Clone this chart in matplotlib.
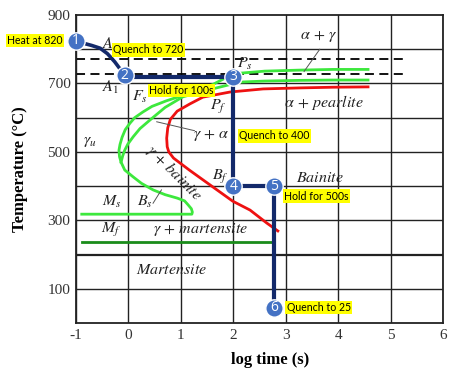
import matplotlib
matplotlib.use("Agg")
import matplotlib.pyplot as plt

plt.rcParams['mathtext.fontset'] = 'stix'

# ---- data (log time, temperature) ----
outer_green_x = [4.57, 3.9, 3.27, 2.6, 2.13, 1.85, 1.61, 1.17, 0.72, 0.45, 0.28, 0.12, 0.03, -0.06, -0.12, -0.16, -0.18, -0.17, -0.14, -0.07, 0.09, 0.25, 0.47, 0.7, 0.93, 1.07, 1.14, 1.2, 1.22, 1.21, 1.1, 0.5, -0.89]
outer_green_y = [741, 741, 739, 736, 730, 716, 697, 672, 649, 633, 617, 600, 584, 565, 543, 522, 505, 486, 470, 447, 427, 408, 389, 375, 365, 357, 345, 334, 324, 318, 318, 318, 318]
inner_green_x = [4.57, 3.9, 3.27, 2.6, 2.13, 1.68, 1.04, 0.7, 0.41, 0.22, 0.09, -0.01, -0.07, -0.11, -0.14]
inner_green_y = [710, 710, 709, 707, 704, 687, 661, 630, 593, 568, 544, 523, 505, 488, 470]
red_x = [4.57, 3.9, 3.27, 2.57, 1.94, 1.42, 1.17, 0.93, 0.8, 0.75, 0.73, 0.74, 0.77, 0.86, 0.98, 1.17, 1.37, 1.68, 1.99, 2.32, 2.64, 2.85]
red_y = [690, 689, 687, 684, 675, 660, 640, 619, 595, 570, 540, 515, 500, 482, 468, 446, 424, 390, 356, 330, 292, 269]
mf_x = [-0.89, 2.73]
mf_y = [236, 236]
a3_x = [-1, 5.24]
a3_y = [772, 772]
a1_x = [-1, 5.24]
a1_y = [727, 727]

cool_x = [-1.0, -0.87, -0.7, -0.54, -0.4, -0.26, -0.07]
cool_y = [825, 818, 811, 803, 787, 763, 724]
path_x = [-0.07, 2.0, 2.0, 2.78, 2.78]
path_y = [720, 720, 400, 400, 45]
step_x = [-1.0, -0.07, 2.0, 2.0, 2.78, 2.78]
step_y = [825, 724, 720, 400, 400, 45]
step_num = ['1', '2', '3', '4', '5', '6']

notes = ['Heat at 820', 'Quench to 720', 'Hold for 100s', 'Quench to 400', 'Hold for 500s', 'Quench to 25']
note_x = [-1.25, -0.29, 0.39, 2.11, 2.97, 3.02]
note_y = [826, 798, 679, 547, 371, 45]
note_ha = ['right', 'left', 'left', 'left', 'left', 'left']

x_ticks = [-1, 0, 1, 2, 3, 4, 5, 6]
y_ticks = [100, 300, 500, 700, 900]

fig = plt.figure(figsize=(4.74, 3.77), dpi=100)
ax = fig.add_axes([0.1603, 0.1432, 0.7743, 0.817])
ax.set_xlim(-1, 6)
ax.set_ylim(0, 900)

for xv in range(-1, 7):
    ax.axvline(xv, color='#222222', lw=1.0, zorder=1)
for yv in range(100, 900, 100):
    ax.axhline(yv, color='#222222', lw=1.6 if yv == 200 else 1.0, zorder=1)

ax.set_xticks(x_ticks)
ax.set_xticklabels(['-1', '0', '1', '2', '3', '4', '5', '6'])
ax.set_yticks(y_ticks)
ax.tick_params(length=0, pad=4, labelsize=11)
for lab in ax.get_xticklabels() + ax.get_yticklabels():
    lab.set_fontfamily('Liberation Serif')
    lab.set_color('#333333')
for s in ax.spines.values():
    s.set_linewidth(1.3)
    s.set_color('#222222')

ax.set_xlabel('log time (s)', fontfamily='Liberation Serif', fontweight='bold', fontsize=12)
ax.set_ylabel('Temperature (\u00b0C)', fontfamily='Liberation Serif', fontweight='bold', fontsize=12)
ax.xaxis.set_label_coords(0.53, -0.093)
ax.yaxis.set_label_coords(-0.131, 0.5)

lg = '#3de83d'
ax.plot(outer_green_x, outer_green_y, color=lg, lw=2.0, zorder=3, solid_joinstyle='round')
ax.plot(inner_green_x, inner_green_y, color=lg, lw=2.0, zorder=3, solid_joinstyle='round')
ax.plot(red_x, red_y, color='#ee1111', lw=2.0, zorder=3, solid_joinstyle='round')
ax.plot(mf_x, mf_y, color='#1a8c1a', lw=2.0, zorder=3)
ax.plot(a3_x, a3_y, color='black', lw=1.3, ls=(0, (5, 3)), zorder=2)
ax.plot(a1_x, a1_y, color='black', lw=1.3, ls=(0, (5, 3)), zorder=2)

navy = '#13296a'
ax.plot(cool_x, cool_y, color=navy, lw=2.6, zorder=5, clip_on=False, solid_capstyle='butt')
ax.plot(path_x, path_y, color=navy, lw=3.0, zorder=5, solid_joinstyle='miter')
ax.plot(step_x, step_y, 'o', ms=12.5, mfc='#4472c4', mec='white', mew=1.0, zorder=6, clip_on=False)
for sx, sy, sn in zip(step_x, step_y, step_num):
    ax.text(sx, sy, sn, color='white', fontsize=10, ha='center', va='center',
            fontfamily='Open Sans', zorder=7, clip_on=False)

for t, tx, ty, ha in zip(notes, note_x, note_y, note_ha):
    ax.text(tx, ty, t, fontsize=7.6, fontfamily='Lato', ha=ha, va='center', zorder=8,
            bbox=dict(boxstyle='square,pad=0.12', fc='#ffff00', ec='none'), clip_on=False)

m = dict(fontsize=11.5, color='#222222', zorder=4)
ax.text(-0.39, 818, r'$A$', ha='center', va='center', **m)
ax.text(-0.35, 688, r'$A_1$', ha='center', va='center', **m)
ax.text(3.62, 837, r'$\alpha\, +\, \gamma$', ha='center', va='center', **m)
ax.plot([3.65, 3.35], [800, 735], color='#555555', lw=0.7, zorder=4)
ax.text(2.22, 756, r'$P_s$', ha='center', va='center', **m)
ax.text(3.72, 643, r'$\alpha\, +\, pearlite$', ha='center', va='center', **m)
ax.text(1.72, 630, r'$P_f$', ha='center', va='center', **m)
ax.text(1.58, 549, r'$\gamma\, +\, \alpha$', ha='center', va='center', **m)
ax.plot([0.54, 1.26], [588, 562], color='#555555', lw=0.7, zorder=4)
ax.text(1.76, 427, r'$B_f$', ha='center', va='center', **m)
ax.text(3.65, 426, r'$Bainite$', ha='center', va='center', **m)
ax.text(0.87, 438, r'$\gamma\, +\, bainite$', ha='center', va='center', rotation=-45, **m)
ax.text(0.22, 661, r'$F_s$', ha='center', va='center', **m)
ax.text(-0.73, 530, r'$\gamma_u$', ha='center', va='center', **m)
ax.text(-0.32, 354, r'$M_s$', ha='center', va='center', **m)
ax.text(0.32, 354, r'$B_s$', ha='center', va='center', **m)
ax.plot([0.47, 0.63], [350, 389], color='#555555', lw=0.7, zorder=4)
ax.text(-0.32, 272, r'$M_f$', ha='center', va='center', **m)
ax.text(1.37, 272, r'$\gamma\, +\, martensite$', ha='center', va='center', **m)
ax.text(0.83, 157, r'$Martensite$', ha='center', va='center', **m)

fig.savefig('out.png', dpi=100)
